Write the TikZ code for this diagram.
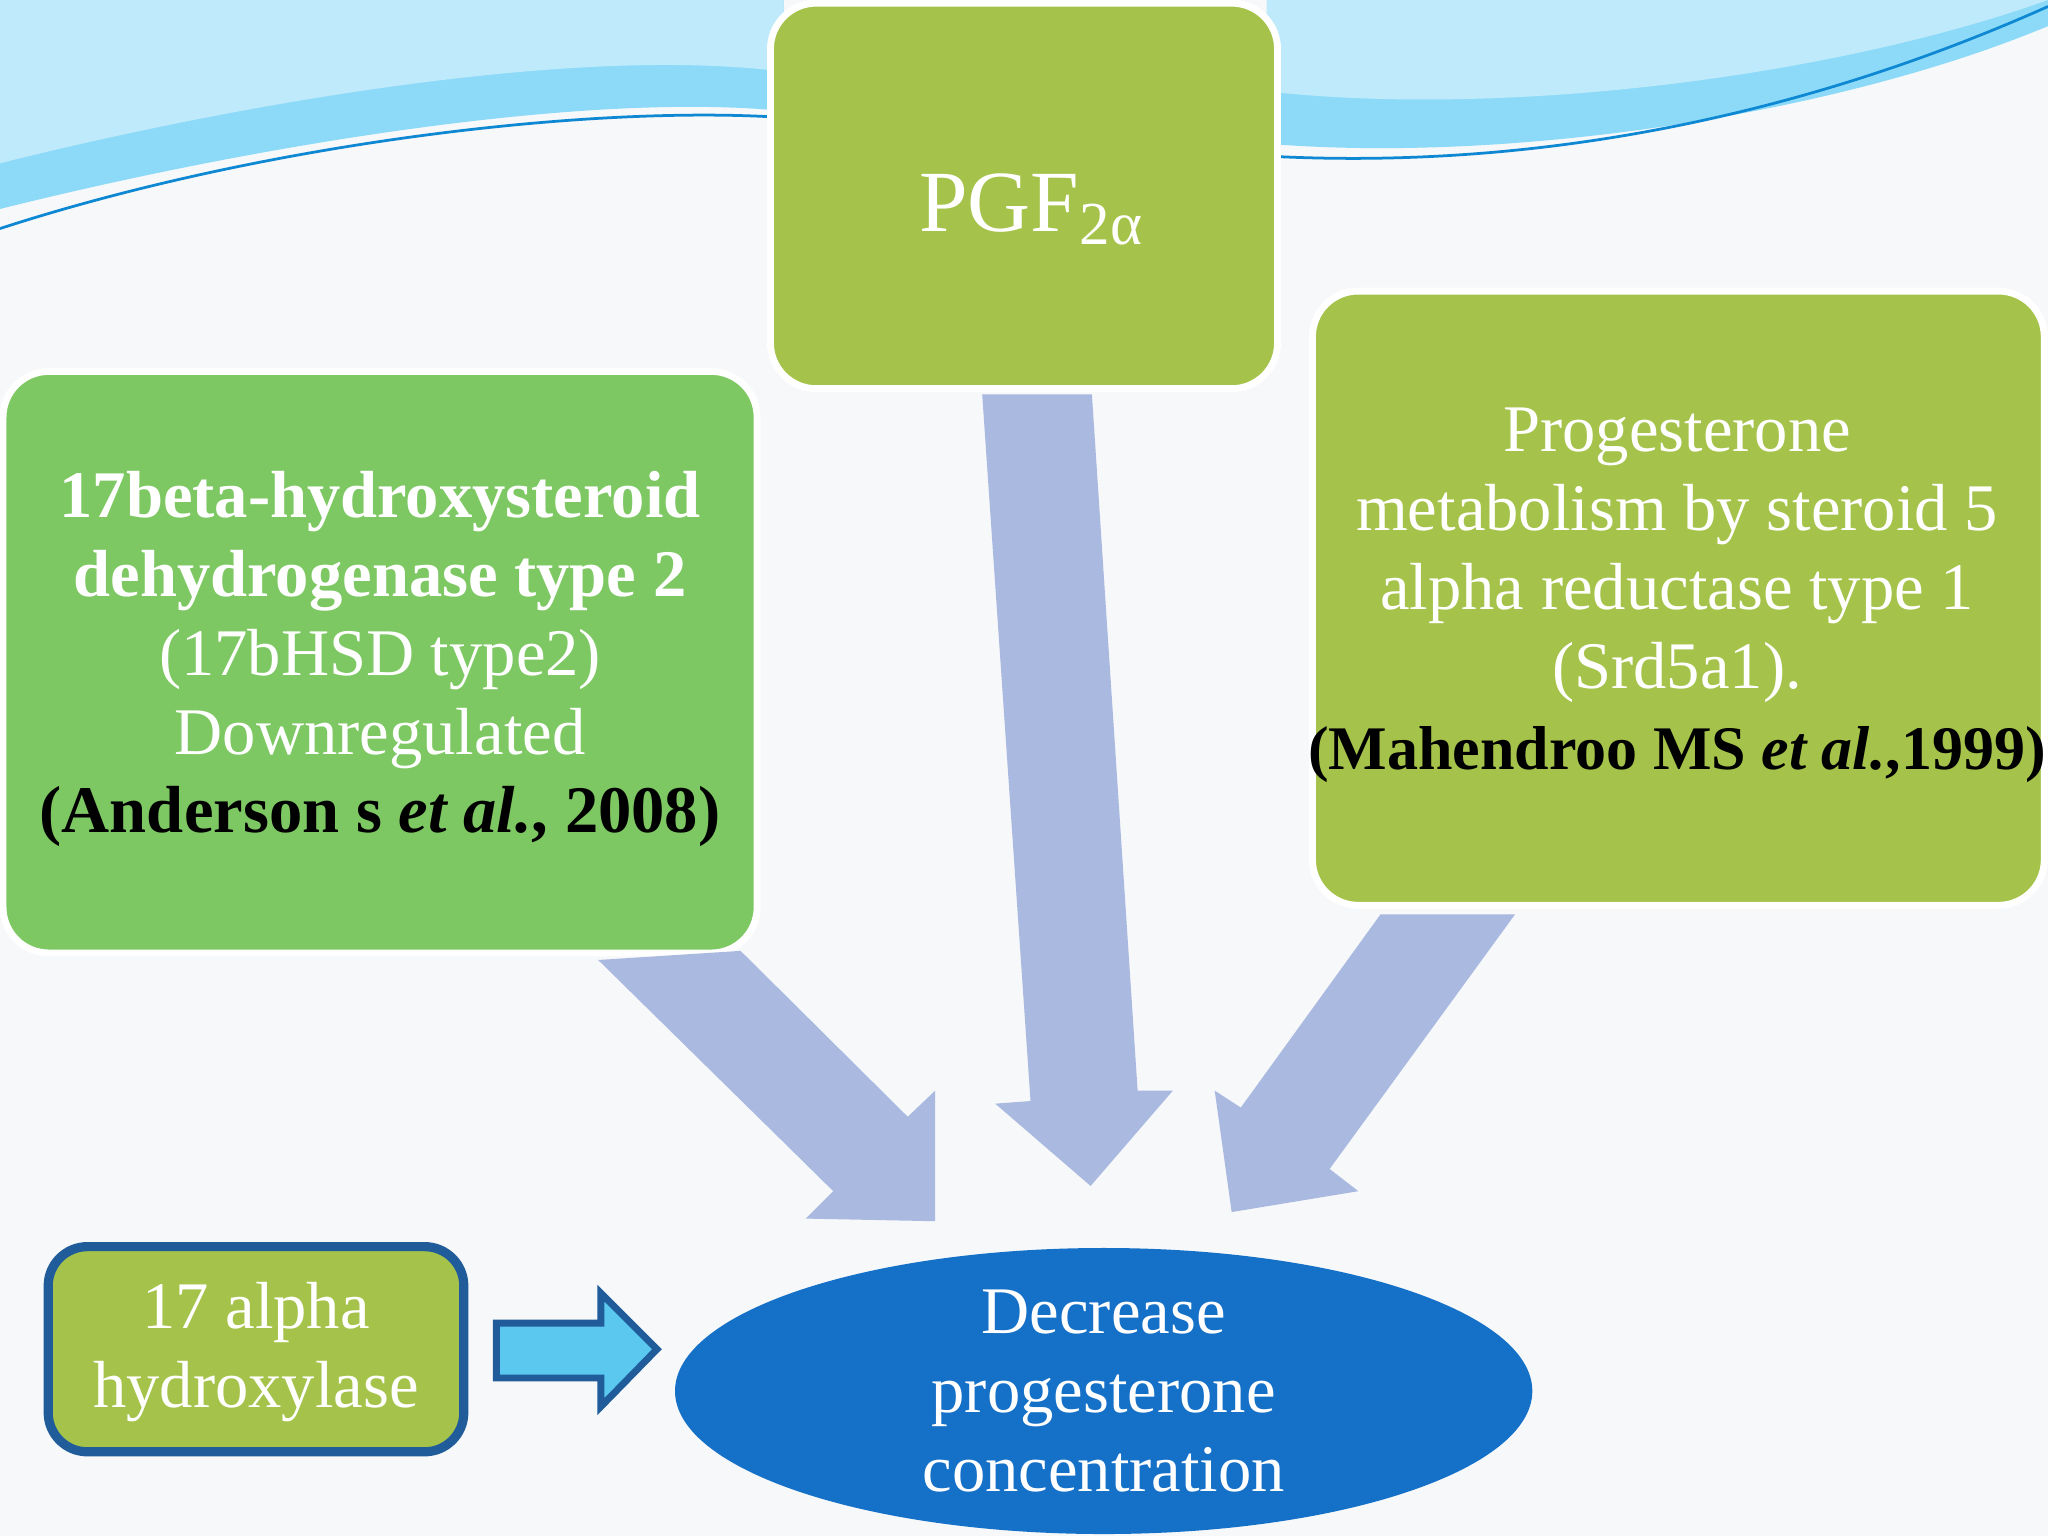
\documentclass[tikz,border=0pt]{standalone}
\usepackage{fontspec}
\setmainfont{Liberation Serif}
\usetikzlibrary{shapes.geometric}
\definecolor{olive}{HTML}{A5C34A}
\definecolor{lgreen}{HTML}{7EC864}
\definecolor{arr}{HTML}{AAB9DF}
\definecolor{ell}{HTML}{1570C8}
\definecolor{dblue}{HTML}{1F5C99}
\definecolor{cyanA}{HTML}{5BC8F0}
\definecolor{bg}{HTML}{F6F8FA}
\begin{document}
\begin{tikzpicture}[x=0.01cm,y=-0.01cm,
  box/.style={draw=white,line width=1.5pt,rounded corners=0.35cm,inner sep=0pt},
  barrow/.style={fill=arr,draw=none},
  txt/.style={font=\fontsize{14.5}{17.2}\selectfont}]
\fill[bg] (0,0) rectangle (1568,1176);
\useasboundingbox (0,0) rectangle (1568,1176);
% top waves
\fill[cyan!45!white] (0,0) -- (0,160) .. controls (200,110) and (450,70) .. (600,85) -- (600,0) -- cycle;
\fill[cyan!25!white] (0,0) -- (0,125) .. controls (200,75) and (450,35) .. (600,55) -- (600,0) -- cycle;
\fill[cyan!45!white] (970,0) -- (970,110) .. controls (1150,125) and (1400,90) .. (1568,20) -- (1568,0) -- cycle;
\fill[cyan!25!white] (970,0) -- (970,70) .. controls (1150,90) and (1400,60) .. (1568,0) -- cycle;
\draw[cyan!70!blue,line width=0.6pt] (0,175) .. controls (200,110) and (450,80) .. (600,90);
\draw[cyan!70!blue,line width=0.6pt] (980,120) .. controls (1200,130) and (1400,80) .. (1568,5);
% boxes
\node[box,fill=olive,minimum width=3.88cm,minimum height=2.95cm] (pgf) at (784,150) {};
\node[font=\fontsize{19}{22}\selectfont,text=white] (pgft) at (790,160) {PGF\textsubscript{2α}};
\node[box,fill=lgreen,minimum width=5.77cm,minimum height=4.45cm] (left) at (291,507) {};
\node[txt,text=white,align=center] (lt) at (291,475) {\textbf{17beta-hydroxysteroid}\\ \textbf{dehydrogenase type 2}\\(17bHSD type2)\\Downregulated};
\node[txt,align=center] (lc) at (291,625) {\textbf{(Anderson s \textit{et al.}, 2008)}};
\node[box,fill=olive,minimum width=5.6cm,minimum height=4.7cm] (right) at (1285,458) {};
\node[txt,text=white,align=center] (rt) at (1284,425) {Progesterone\\metabolism by steroid 5\\alpha reductase type 1\\(Srd5a1).};
\node[font=\fontsize{13.5}{16}\selectfont,align=center] (rc) at (1284,578) {\textbf{(Mahendroo MS \textit{et al.},1999)}};
\node[draw=dblue,line width=2pt,fill=olive,rounded corners=0.3cm,minimum width=3.18cm,minimum height=1.57cm] (small) at (196,1033) {};
\node[txt,text=white,align=center] (st) at (196,1035) {17 alpha\\hydroxylase};
\node[ellipse,fill=ell,minimum width=6.56cm,minimum height=2.16cm,txt,text=white,align=center,inner sep=0pt] (ell) at (845,1065) {Decrease\\progesterone\\concentration};
% block arrows
\fill[barrow] (458,735) -- (567,728) -- (695,855) -- (716,835) -- (716,935) -- (617,933) -- (638,912) -- cycle;
\fill[barrow] (752,302) -- (836,302) -- (871,835) -- (898,835) -- (835,908) -- (762,845) -- (789,843) -- cycle;
\fill[barrow] (1057,700) -- (1160,700) -- (1018,895) -- (1040,912) -- (943,928) -- (930,835) -- (950,848) -- cycle;
\draw[fill=cyanA,draw=dblue,line width=1.5pt] (380,1013) -- (460,1013) -- (460,990) -- (503,1033) -- (460,1077) -- (460,1055) -- (380,1055) -- cycle;
\end{tikzpicture}
\end{document}
